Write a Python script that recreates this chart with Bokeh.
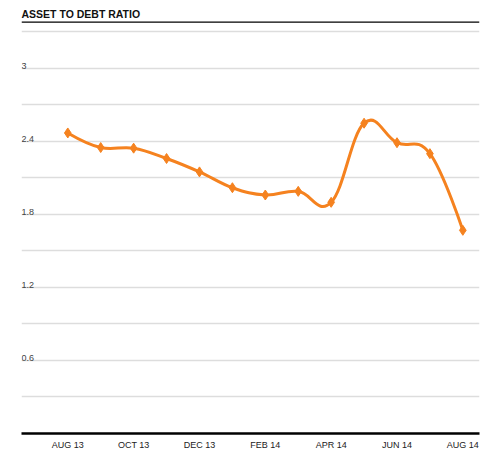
from bokeh.plotting import figure
from bokeh.models import Range1d, FixedTicker, Span
from bokeh.core.properties import value
from bokeh.embed import file_html
from bokeh.resources import INLINE

# data
months = [0, 1, 2, 3, 4, 5, 6, 7, 8, 9, 10, 11, 12]   # Aug 13 .. Aug 14
ratio = [2.47, 2.35, 2.345, 2.26, 2.15, 2.02, 1.96, 1.99, 1.90, 2.55, 2.39, 2.30, 1.67]
tick_pos = [0, 2, 4, 6, 8, 10, 12]
tick_labels = ["AUG 13", "OCT 13", "DEC 13", "FEB 14", "APR 14", "JUN 14", "AUG 14"]
grid_vals = [0.3, 0.6, 0.9, 1.2, 1.5, 1.8, 2.1, 2.4, 2.7, 3.0, 3.3]
ylab_vals = [0.6, 1.2, 1.8, 2.4, 3.0]
ylab_text = ["0.6", "1.2", "1.8", "2.4", "3"]

ORANGE = "#f5821f"
FONT = "Liberation Sans"

p = figure(frame_width=458, frame_height=412,
           x_range=Range1d(-1.406, 12.506), y_range=Range1d(0, 3.386),
           output_backend="svg", toolbar_location=None,
           min_border_left=21, min_border_right=21, min_border_top=21, min_border_bottom=0,
           title="ASSET TO DEBT RATIO")
p.outline_line_color = None
p.background_fill_color = "white"
p.border_fill_color = "white"

p.title.text_font = FONT
p.title.text_font_size = "10.5px"
p.title.text_font_style = "bold"
p.title.text_color = "#111111"
p.title.align = "left"
p.title.offset = 0
p.title.standoff = 4

p.yaxis.visible = False
p.xgrid.visible = False
p.ygrid.ticker = FixedTicker(ticks=grid_vals)
p.ygrid.grid_line_color = "#dddddd"
p.ygrid.grid_line_width = 1.5

xa = p.xaxis[0]
xa.ticker = FixedTicker(ticks=tick_pos)
xa.major_label_overrides = dict(zip(tick_pos, tick_labels))
xa.major_tick_line_color = None
xa.minor_tick_line_color = None
xa.axis_line_color = "black"
xa.axis_line_width = 2.5
xa.major_label_text_font = FONT
xa.major_label_text_font_size = "9px"
xa.major_label_text_color = "#222222"
xa.major_label_standoff = 0

# thick rule under the title
p.add_layout(Span(location=p.y_range.end, dimension="width", line_color="black", line_width=2.5))

# y labels sitting on top of their grid lines
p.text(x=[p.x_range.start] * len(ylab_vals), y=ylab_vals, text=ylab_text,
       text_font=value(FONT), text_font_size="9px", text_color="#444444",
       text_align="left", text_baseline="alphabetic", y_offset=-2)

# smooth spline through the points (control points from neighbour slopes)
n = len(months)
x0, y0, x1, y1, cx0, cy0, cx1, cy1 = [], [], [], [], [], [], [], []
for i in range(n - 1):
    xa_, ya_ = months[i], ratio[i]
    xb_, yb_ = months[i + 1], ratio[i + 1]
    dx = xb_ - xa_
    if i == 0:
        c0x, c0y = xa_, ya_
    else:
        m = (ratio[i + 1] - ratio[i - 1]) / (months[i + 1] - months[i - 1])
        c0x, c0y = xa_ + dx / 2.5, ya_ + m * dx / 2.5
    if i + 1 == n - 1:
        c1x, c1y = xb_, yb_
    else:
        m = (ratio[i + 2] - ratio[i]) / (months[i + 2] - months[i])
        c1x, c1y = xb_ - dx / 2.5, yb_ - m * dx / 2.5
    x0.append(xa_); y0.append(ya_); x1.append(xb_); y1.append(yb_)
    cx0.append(c0x); cy0.append(c0y); cx1.append(c1x); cy1.append(c1y)

p.bezier(x0=x0, y0=y0, x1=x1, y1=y1, cx0=cx0, cy0=cy0, cx1=cx1, cy1=cy1,
         line_color=ORANGE, line_width=3)
p.scatter(months, ratio, marker="diamond", size=10, color=ORANGE)

open("out.html", "w").write(file_html(p, INLINE))
